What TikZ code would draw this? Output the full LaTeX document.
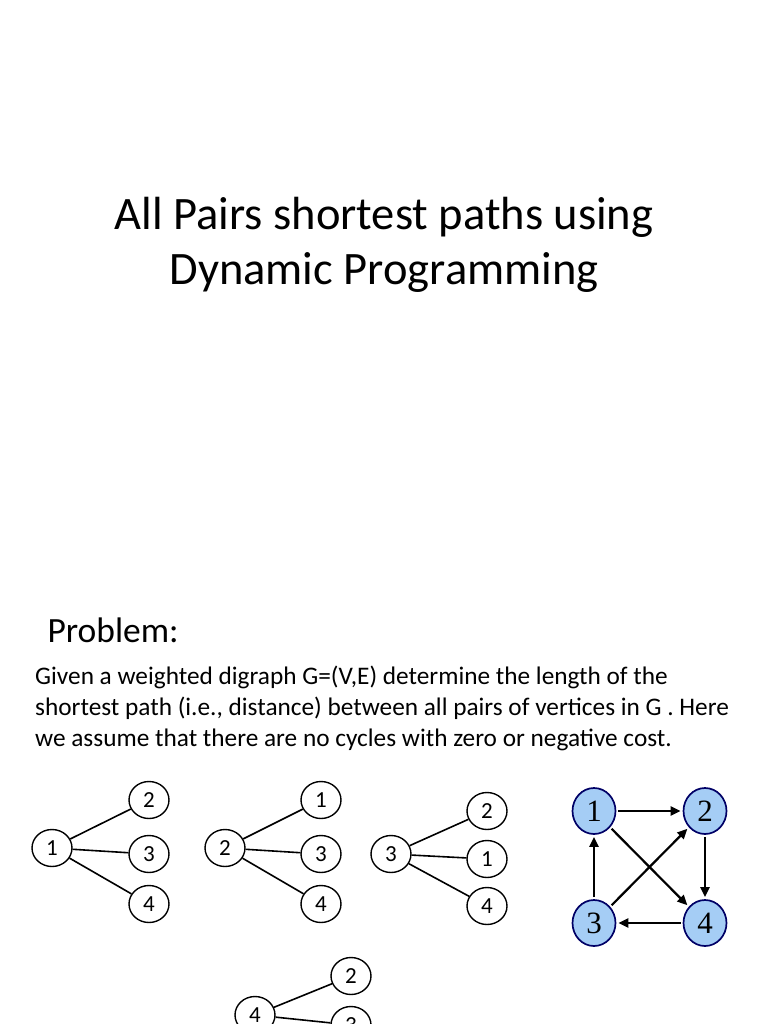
\documentclass[tikz,border=0pt]{standalone}
\usepackage{fontspec}
\setmainfont{Carlito}
\newfontfamily\serifnum{Liberation Serif}
\usetikzlibrary{shapes.geometric,arrows.meta}
\begin{document}
\begin{tikzpicture}[x=1pt,y=-1pt,
  tn/.style={ellipse,draw,line width=1.4pt,minimum width=40pt,minimum height=37pt,inner sep=0pt,font=\fontsize{23}{23}\selectfont},
  gn/.style={ellipse,draw=blue!40!black,fill={rgb,255:red,165;green,205;blue,245},line width=1.7pt,minimum width=43pt,minimum height=46pt,inner sep=0pt,font=\serifnum\fontsize{31}{31}\selectfont},
  te/.style={line width=1.6pt},
  ge/.style={line width=2.2pt,-{Triangle[length=10pt,width=9pt]},shorten >=2pt,shorten <=2pt}]
\useasboundingbox (0,0) rectangle (768,1024);
\node[align=center,font=\fontsize{46.5}{55}\selectfont] (title) at (384,245) {All Pairs shortest paths using\\Dynamic Programming};
\node[anchor=west,font=\fontsize{35.5}{35.5}\selectfont] (prob) at (44,630) {Problem:};
\node[anchor=north west,align=left,font=\fontsize{25.3}{31}\selectfont,inner sep=0pt] (txt) at (35,666) {Given a weighted digraph G=(V,E) determine the length of the\\shortest path (i.e., distance) between all pairs of vertices in G . Here\\we assume that there are no cycles with zero or negative cost.};
% tree 1
\node[tn] (a1) at (52,848) {1};
\node[tn] (a2) at (149,800) {2};
\node[tn] (a3) at (149,854) {3};
\node[tn] (a4) at (149,904) {4};
\draw[te] (a1) -- (a2); \draw[te] (a1) -- (a3); \draw[te] (a1) -- (a4);
% tree 2
\node[tn] (b1) at (225,848) {2};
\node[tn] (b2) at (321,800) {1};
\node[tn] (b3) at (321,854) {3};
\node[tn] (b4) at (321,904) {4};
\draw[te] (b1) -- (b2); \draw[te] (b1) -- (b3); \draw[te] (b1) -- (b4);
% tree 3
\node[tn] (c1) at (391,854) {3};
\node[tn] (c2) at (487,811) {2};
\node[tn] (c3) at (487,859) {1};
\node[tn] (c4) at (487,906) {4};
\draw[te] (c1) -- (c2); \draw[te] (c1) -- (c3); \draw[te] (c1) -- (c4);
% tree 4
\node[tn] (d1) at (255,1015) {4};
\node[tn] (d2) at (351,976) {2};
\node[tn] (d3) at (351,1025) {3};
\draw[te] (d1) -- (d2); \draw[te] (d1) -- (d3);
% graph
\node[gn] (g1) at (594,811) {1};
\node[gn] (g2) at (705,811) {2};
\node[gn] (g3) at (594,923) {3};
\node[gn] (g4) at (705,923) {4};
\draw[ge] (g1) -- (g2);
\draw[ge] (g2) -- (g4);
\draw[ge] (g4) -- (g3);
\draw[ge] (g3) -- (g1);
\draw[ge] (g1) -- (g4);
\draw[ge] (g3) -- (g2);
\end{tikzpicture}
\end{document}
